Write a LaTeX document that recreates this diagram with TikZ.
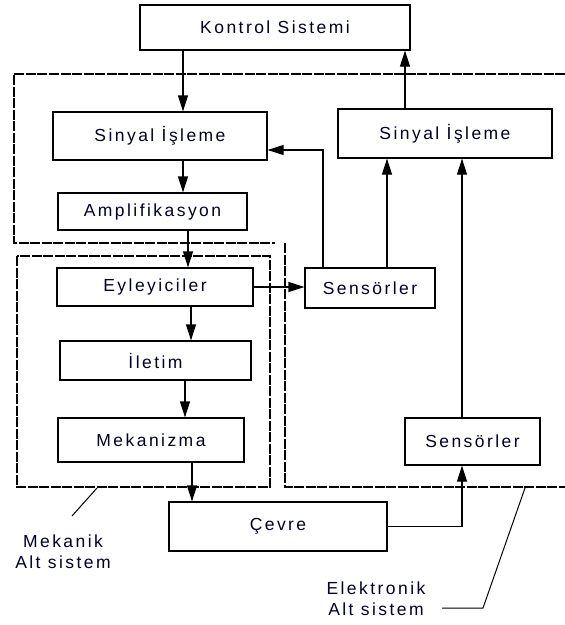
\documentclass[tikz,border=0pt]{standalone}
\usepackage{fontspec}
\setmainfont{Liberation Sans}[LetterSpace=14]
\usetikzlibrary{arrows.meta}
\tikzset{
  box/.style={draw, line width=1.2pt, inner sep=0pt, text=black!85!blue, font=\fontsize{17.5}{20}\selectfont},
  arr/.style={line width=1.2pt, -{Triangle[length=16pt,width=10pt]}},
  dline/.style={line width=1.1pt, dash pattern=on 10pt off 1.5pt},
  lead/.style={line width=1pt},
  lbl/.style={align=center, text=black!85!blue, font=\fontsize{17.5}{21}\selectfont}
}
\begin{document}
\begin{tikzpicture}[x=1pt,y=-1pt]
\useasboundingbox (0,0) rectangle (565,625);
% boxes
\node[box, minimum width=270pt, minimum height=45pt] (ks)  at (275,27.5) {Kontrol Sistemi};
\node[box, minimum width=214pt, minimum height=48pt] (sl)  at (160,136) {Sinyal İşleme};
\node[box, minimum width=189pt, minimum height=37pt] (amp) at (152.5,211.5) {Amplifikasyon};
\node[box, minimum width=196pt, minimum height=38pt] (ey)  at (155,287) {Eyleyiciler};
\node[box, minimum width=191pt, minimum height=39pt] (il)  at (155.5,360.5) {İletim};
\node[box, minimum width=186pt, minimum height=44pt] (mek) at (151,440) {Mekanizma};
\node[box, minimum width=218pt, minimum height=49pt] (cev) at (278,526.5) {Çevre};
\node[box, minimum width=130pt, minimum height=40pt] (sm)  at (370,288) {Sensörler};
\node[box, minimum width=135pt, minimum height=47pt] (sr)  at (472.5,441.5) {Sensörler};
\node[box, minimum width=214pt, minimum height=49pt] (sri) at (445,133.5) {Sinyal İşleme};
% labels
\node[lbl] (mlab) at (63,552) {Mekanik\\Alt sistem};
\node[lbl] (elab) at (376,599) {Elektronik\\Alt sistem};
% dashed subsystem borders
\draw[dline] (565,74) -- (14,74) -- (14,243) -- (275,243);
\draw[dline] (285,243) -- (285,487) -- (565,487);
\draw[dline] (17,256) rectangle (270,487);
% leader lines
\coordinate (m1) at (97,488);
\coordinate (e1) at (525,488);
\draw[lead] (72,516) -- (m1);
\draw[lead] (442,608) -- (483,608) -- (e1);
% connectors
\draw[arr] ([xshift=-92pt]ks.south) -- ([xshift=23pt]sl.north);
\draw[arr] ([xshift=23pt]sl.south) -- ([xshift=30.5pt]amp.north);
\draw[arr] ([xshift=35.5pt]amp.south) -- ([xshift=33pt]ey.north);
\draw[arr] ([xshift=36pt]ey.south) -- ([xshift=35.5pt]il.north);
\draw[arr] ([xshift=29.5pt]il.south) -- ([xshift=34pt]mek.north);
\draw[arr] ([xshift=41pt]mek.south) -- ([xshift=-86pt]cev.north);
\draw[arr] (ey.east) -- (sm.west |- ey.east);
\draw[arr] (cev.east) -| ([xshift=-10.5pt]sr.south);
\draw[arr] ([xshift=-10.5pt]sr.north) -- ([xshift=17pt]sri.south);
\draw[arr] ([xshift=17pt]sm.north) -- ([xshift=-58pt]sri.south);
\draw[arr] ([xshift=-47pt]sm.north) |- ([yshift=-14pt]sl.east);
\draw[arr] ([xshift=-40pt]sri.north) -- ([xshift=130pt]ks.south);
\end{tikzpicture}
\end{document}
